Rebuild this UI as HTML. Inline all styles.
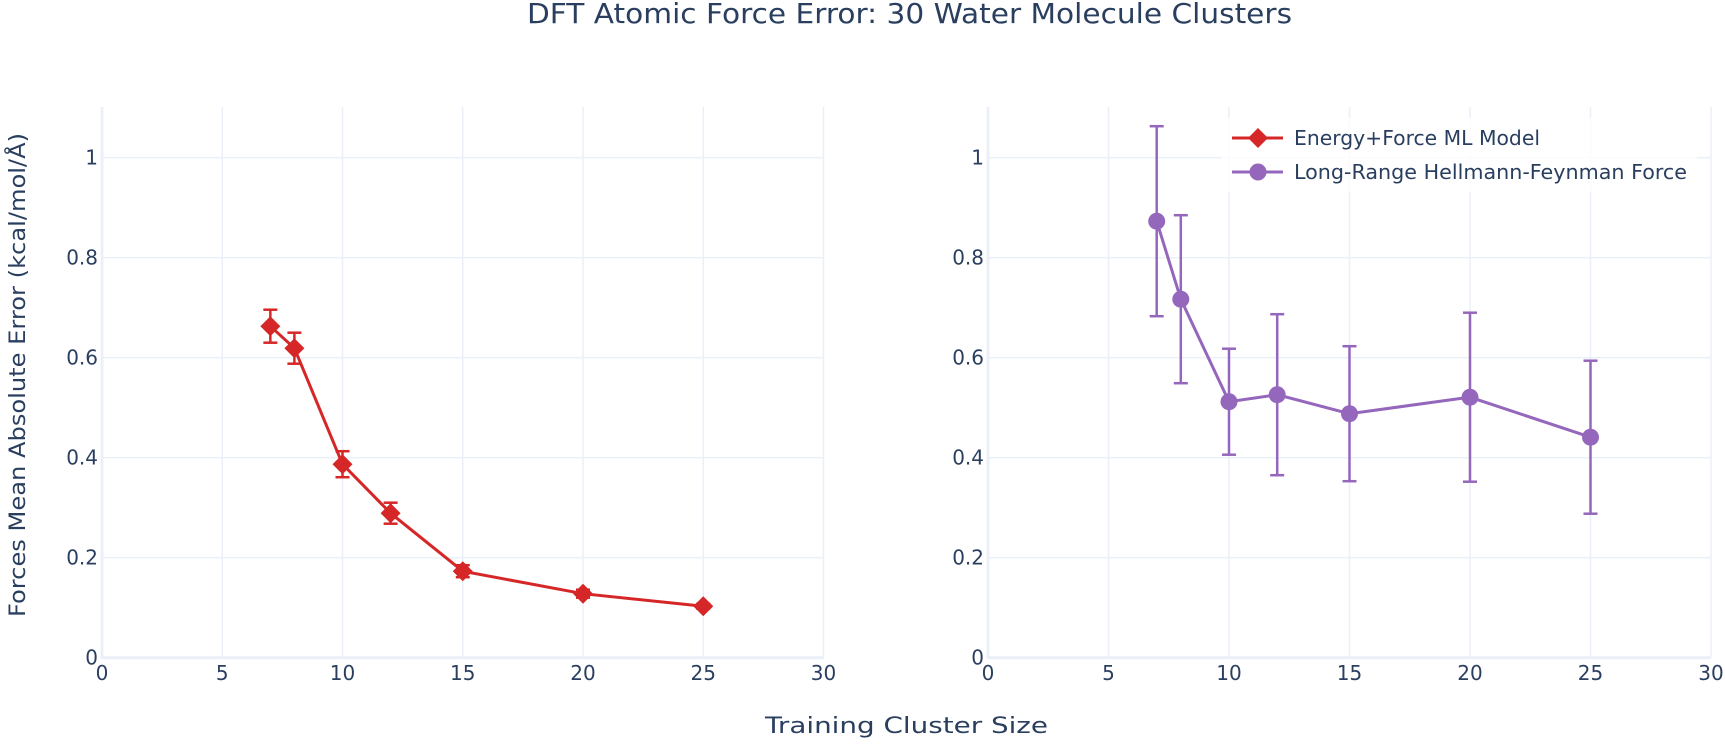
<!DOCTYPE html>
<html><head><meta charset="utf-8"><style>
html,body{margin:0;padding:0;background:#fff;}
svg{display:block;font-family:"DejaVu Sans","Liberation Sans",sans-serif;fill:#2a3f5f;}
</style></head><body>
<svg id="s" width="1725" height="745" xmlns="http://www.w3.org/2000/svg"></svg>
<script>
const s=document.getElementById('s');let h='';
const RED='#d62728',PUR='#9467bd';
function panel(x0,sx,data,color,marker){
  const px=x=>x0+sx*x, py=y=>657.7-500*y, right=px(30);
  for(let x=5;x<=30;x+=5)h+=`<line x1="${px(x)}" y1="107" x2="${px(x)}" y2="657.7" stroke="#ebf0f8" stroke-width="1.5"/>`;
  for(let i=1;i<=5;i++){const y=py(i*0.2);h+=`<line x1="${x0}" y1="${y}" x2="${right}" y2="${y}" stroke="#ebf0f8" stroke-width="1.5"/>`;}
  h+=`<line x1="${x0}" y1="107" x2="${x0}" y2="658.7" stroke="#ebf0f8" stroke-width="3"/>`;
  h+=`<line x1="${x0}" y1="${py(0)}" x2="${right}" y2="${py(0)}" stroke="#ebf0f8" stroke-width="3"/>`;
  for(let x=0;x<=30;x+=5)h+=`<text x="${px(x)}" y="680" font-size="20" text-anchor="middle">${x}</text>`;
  const yl=['0','0.2','0.4','0.6','0.8','1'];
  yl.forEach((t,i)=>h+=`<text x="${x0-4}" y="${py(i*0.2)+7}" font-size="20" text-anchor="end">${t}</text>`);
  let pts=data.map(d=>px(d[0])+','+py(d[1])).join(' ');
  data.forEach(d=>{const x=px(d[0]),a=py(d[1]+d[2]),b=py(d[1]-d[2]);
    h+=`<g stroke="${color}" stroke-width="2.5"><line x1="${x}" y1="${a}" x2="${x}" y2="${b}"/><line x1="${x-7}" y1="${a}" x2="${x+7}" y2="${a}"/><line x1="${x-7}" y1="${b}" x2="${x+7}" y2="${b}"/></g>`;});
  h+=`<polyline points="${pts}" fill="none" stroke="${color}" stroke-width="3"/>`;
  data.forEach(d=>h+=marker(px(d[0]),py(d[1])));
}
const dia=(x,y)=>`<path d="M${x},${y-10}L${x+10},${y}L${x},${y+10}L${x-10},${y}Z" fill="${RED}"/>`;
const cir=(x,y)=>`<circle cx="${x}" cy="${y}" r="8.5" fill="${PUR}"/>`;
panel(102,24.05,[[7,0.663,0.033],[8,0.619,0.031],[10,0.387,0.026],[12,0.289,0.021],[15,0.173,0.012],[20,0.128,0.008],[25,0.103,0.005]],RED,dia);
panel(988,24.1,[[7,0.873,0.19],[8,0.717,0.168],[10,0.512,0.106],[12,0.526,0.161],[15,0.488,0.135],[20,0.521,0.169],[25,0.441,0.153]],PUR,cir);
h+=`<text x="527" y="23" font-size="28" textLength="765" lengthAdjust="spacingAndGlyphs">DFT Atomic Force Error: 30 Water Molecule Clusters</text>`;
h+=`<text x="765" y="733" font-size="22" textLength="283" lengthAdjust="spacingAndGlyphs">Training Cluster Size</text>`;
h+=`<text transform="translate(25,617) rotate(-90)" font-size="22" textLength="484" lengthAdjust="spacingAndGlyphs">Forces Mean Absolute Error (kcal/mol/Å)</text>`;
h+=`<rect x="1222" y="118" width="475" height="74" fill="#fff" fill-opacity="0.8"/>`;
h+=`<line x1="1232" y1="138" x2="1283" y2="138" stroke="${RED}" stroke-width="3"/>`+dia(1258,138);
h+=`<text x="1294" y="145" font-size="20" textLength="246" lengthAdjust="spacingAndGlyphs">Energy+Force ML Model</text>`;
h+=`<line x1="1232" y1="172" x2="1283" y2="172" stroke="${PUR}" stroke-width="3"/>`+cir(1258,172);
h+=`<text x="1294" y="179" font-size="20" textLength="393" lengthAdjust="spacingAndGlyphs">Long-Range Hellmann-Feynman Force</text>`;
s.innerHTML=h;
</script>
</body></html>
